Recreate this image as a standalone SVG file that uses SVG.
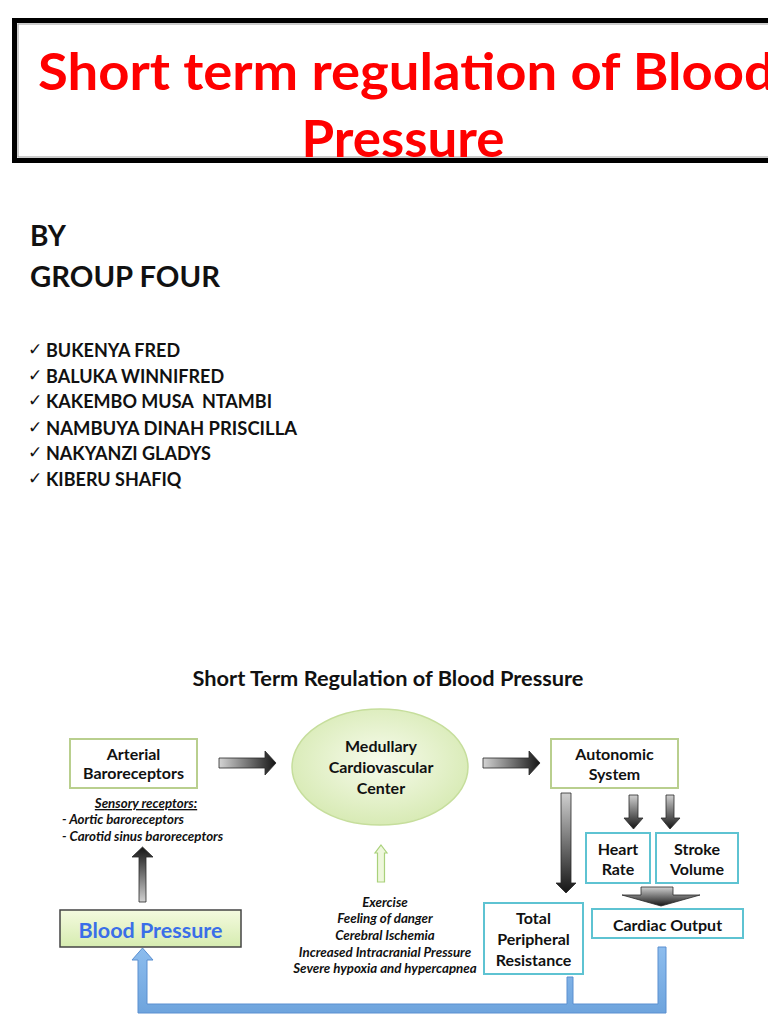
<svg xmlns="http://www.w3.org/2000/svg" width="768" height="1024" viewBox="0 0 768 1024">
<style>
.t{font-family:Lato,"Open Sans","DejaVu Sans",sans-serif;font-weight:bold;fill:#111}
.c{text-anchor:middle}
.n{font-size:16px}
.it{font-style:italic;font-size:13.3px}
.nm{font-size:18px}
.ck{font-family:"DejaVu Sans",sans-serif;font-size:17px;fill:#111}
.gbox{fill:#fff;stroke:#b9cf8e;stroke-width:2}
.bbox{fill:#fff;stroke:#5ec3d2;stroke-width:2}
.garr{stroke:#2a2a2a;stroke-width:0.8}
</style>
<defs>
<linearGradient id="gh" x1="0" y1="0" x2="1" y2="0"><stop offset="0" stop-color="#d4d4d4"/><stop offset="1" stop-color="#151515"/></linearGradient>
<linearGradient id="gv" x1="0" y1="0" x2="0" y2="1"><stop offset="0" stop-color="#d0d0d0"/><stop offset="1" stop-color="#151515"/></linearGradient>
<linearGradient id="gu" x1="0" y1="0" x2="0" y2="1"><stop offset="0" stop-color="#151515"/><stop offset="1" stop-color="#d0d0d0"/></linearGradient>
<radialGradient id="ell" cx="0.5" cy="0.45" r="0.6"><stop offset="0" stop-color="#f7fbec"/><stop offset="1" stop-color="#d5e9b0"/></radialGradient>
<linearGradient id="bpf" x1="0" y1="0" x2="0" y2="1"><stop offset="0" stop-color="#f4fadf"/><stop offset="1" stop-color="#d6ecb0"/></linearGradient>
<linearGradient id="blue" x1="0" y1="0" x2="0" y2="1"><stop offset="0" stop-color="#8dbdee"/><stop offset="1" stop-color="#6ea4dd"/></linearGradient>
</defs>
<rect width="768" height="1024" fill="#fff"/>

<g id="title">
<rect x="14.5" y="20.5" width="780" height="140" fill="#fff" stroke="#000" stroke-width="5"/>
<rect x="18" y="24" width="760" height="133" fill="none" stroke="#999" stroke-width="1"/>
<text x="38" y="90" font-family="Lato,'Open Sans',sans-serif" font-weight="bold" font-size="52" fill="#ff0000" textLength="737" lengthAdjust="spacingAndGlyphs">Short term regulation of Blood</text>
<text x="403" y="157" font-family="Lato,'Open Sans',sans-serif" font-weight="bold" font-size="52" fill="#ff0000" text-anchor="middle" textLength="203" lengthAdjust="spacingAndGlyphs">Pressure</text>
</g>

<g id="authors">
<text class="t" x="30" y="246" font-size="28">BY</text>
<text class="t" x="30" y="287" font-size="28" textLength="190" lengthAdjust="spacingAndGlyphs">GROUP FOUR</text>
<text class="ck" x="28" y="355">✓</text><text class="t nm" x="46" y="357">BUKENYA FRED</text>
<text class="ck" x="28" y="381">✓</text><text class="t nm" x="46" y="383">BALUKA WINNIFRED</text>
<text class="ck" x="28" y="406">✓</text><text class="t nm" x="46" y="408" xml:space="preserve">KAKEMBO MUSA  NTAMBI</text>
<text class="ck" x="28" y="433">✓</text><text class="t nm" x="46" y="435" textLength="251" lengthAdjust="spacingAndGlyphs">NAMBUYA DINAH PRISCILLA</text>
<text class="ck" x="28" y="458">✓</text><text class="t nm" x="46" y="460">NAKYANZI GLADYS</text>
<text class="ck" x="28" y="484">✓</text><text class="t nm" x="46" y="486">KIBERU SHAFIQ</text>
</g>

<text class="t c" x="388" y="686" font-size="20" textLength="391" lengthAdjust="spacingAndGlyphs">Short Term Regulation of Blood Pressure</text>

<g id="connectors">
<path class="garr" fill="url(#gh)" d="M219,758 L265,758 L265,751 L276,763 L265,775 L265,768 L219,768 Z"/>
<path class="garr" fill="url(#gh)" d="M483,758 L529,758 L529,751 L540,763 L529,775 L529,768 L483,768 Z"/>
<path class="garr" fill="url(#gv)" d="M561,793 L571,793 L571,883 L576,883 L566,893 L556,883 L561,883 Z"/>
<path class="garr" fill="url(#gv)" d="M629,795 L638,795 L638,818 L643,818 L633.5,829 L624,818 L629,818 Z"/>
<path class="garr" fill="url(#gv)" d="M666,795 L674,795 L674,818 L680,818 L670,829 L661,818 L666,818 Z"/>
<path class="garr" fill="url(#gv)" d="M641,887 L673,887 L673,895 L700,895 L661,906 L622,895 L641,895 Z"/>
<path class="garr" fill="url(#gu)" d="M142.5,847 L153,857 L146,857 L146,902 L139,902 L139,857 L132,857 Z"/>
<path fill="#eef7dc" stroke="#a9d17a" stroke-width="1.2" d="M381,845 L387,853 L384.5,853 L384.5,882 L377.5,882 L377.5,853 L375,853 Z"/>
<path fill="url(#blue)" stroke="#5a8fd0" stroke-width="1" d="M142.5,948 L153,960 L147,960 L147,1004 L567,1004 L567,977 L573,977 L573,1004 L658,1004 L658,947 L666,947 L666,1013 L138,1013 L138,960 L132,960 Z"/>
</g>

<g id="arterial">
<rect class="gbox" x="70" y="739" width="127" height="49"/>
<text class="t c n" x="133.5" y="760">Arterial</text>
<text class="t c n" x="133.5" y="779">Baroreceptors</text>
</g>

<g id="sensory">
<text class="t c it" x="146" y="808" text-decoration="underline">Sensory receptors:</text>
<text class="t it" x="62" y="824">- Aortic baroreceptors</text>
<text class="t it" x="62" y="841">- Carotid sinus baroreceptors</text>
</g>

<g id="medullary">
<ellipse cx="380" cy="767" rx="88" ry="58" fill="url(#ell)" stroke="#c6de9c" stroke-width="1.5"/>
<text class="t c n" x="381" y="752">Medullary</text>
<text class="t c n" x="381" y="773">Cardiovascular</text>
<text class="t c n" x="381" y="794">Center</text>
</g>

<g id="autonomic">
<rect class="gbox" x="551" y="739" width="127" height="49"/>
<text class="t c n" x="614.5" y="760">Autonomic</text>
<text class="t c n" x="614.5" y="780">System</text>
</g>

<g id="heartrate">
<rect class="bbox" x="586" y="833" width="64" height="50"/>
<text class="t c n" x="618" y="855">Heart</text>
<text class="t c n" x="618" y="875">Rate</text>
</g>

<g id="strokevolume">
<rect class="bbox" x="656" y="833" width="82" height="50"/>
<text class="t c n" x="697" y="855">Stroke</text>
<text class="t c n" x="697" y="875">Volume</text>
</g>

<g id="cardiacoutput">
<rect class="bbox" x="592" y="909" width="151" height="29"/>
<text class="t c n" x="667.5" y="931">Cardiac Output</text>
</g>

<g id="tpr">
<rect class="bbox" x="484" y="903" width="99" height="71"/>
<text class="t c" x="533.5" y="924" font-size="16">Total</text>
<text class="t c" x="533.5" y="945" font-size="16">Peripheral</text>
<text class="t c" x="533.5" y="966" font-size="16">Resistance</text>
</g>

<g id="factors">
<text class="t c it" x="385" y="907">Exercise</text>
<text class="t c it" x="385" y="923">Feeling of danger</text>
<text class="t c it" x="385" y="940">Cerebral Ischemia</text>
<text class="t c it" x="385" y="957">Increased Intracranial Pressure</text>
<text class="t c it" x="385" y="973">Severe hypoxia and hypercapnea</text>
</g>

<g id="bloodpressure">
<rect x="60" y="910" width="181" height="37" fill="url(#bpf)" stroke="#444" stroke-width="1.5"/>
<text class="c" x="150.5" y="938" font-family="Lato,'Open Sans',sans-serif" font-weight="bold" font-size="21.5" fill="#3a6ee8">Blood Pressure</text>
</g>
</svg>
